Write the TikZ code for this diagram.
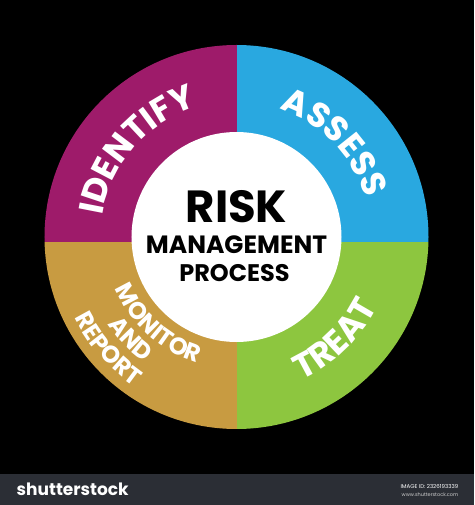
\documentclass[tikz,border=0pt]{standalone}
\usepackage{fontspec}
\setmainfont{Poppins}
\usetikzlibrary{decorations.text}
\definecolor{cmag}{RGB}{158,27,106}
\definecolor{cblue}{RGB}{41,168,224}
\definecolor{cgreen}{RGB}{141,198,63}
\definecolor{cgold}{RGB}{200,155,65}
\definecolor{cbar}{RGB}{43,46,53}
\tikzset{
  arctext/.style={decorate, decoration={text along path, text align=center, text color=white, text={#1}}},
  centertext/.style={text=black, font=\bfseries, inner sep=0pt},
}
\begin{document}
\begin{tikzpicture}[x=1pt,y=1pt]
\fill[black] (-236.5,-268) rectangle (237.5,237);
\useasboundingbox (-236.5,-268) rectangle (237.5,237);
% quadrants
\begin{scope}
  \clip (0,0) circle[radius=192];
  \fill[cmag] (-200,-5) rectangle (0,200);
  \fill[cblue] (0,-5) rectangle (200,200);
  \fill[cgreen] (0,-5) rectangle (200,-200);
  \fill[cgold] (-200,-5) rectangle (0,-200);
\end{scope}
\node[circle, fill=white, minimum size=210pt, inner sep=0pt] (hub) at (0,0) {};
% center text
\node[centertext, font=\fontsize{45}{45}\selectfont\bfseries] (risk) at (0,30) {RISK};
\node[centertext, font=\fontsize{25}{25}\selectfont\bfseries] (mgmt) at (0,-8) {MANAGEMENT};
\node[centertext, font=\fontsize{24}{24}\selectfont\bfseries] (proc) at (-2,-36) {PROCESS};
% arc texts
\path[arctext={|\fontsize{34.5}{34.5}\selectfont\bfseries|IDENTIFY}] (189:136) arc[start angle=189, end angle=89, radius=136];
\path[arctext={|\fontsize{34.5}{34.5}\selectfont\bfseries|ASSESS}] (94:135) arc[start angle=94, end angle=-6, radius=135];
\path[arctext={|\fontsize{34.5}{34.5}\selectfont\bfseries|TREAT}] (-96:157) arc[start angle=-96, end angle=4, radius=157];
\path[arctext={|\fontsize{24}{24}\selectfont\bfseries|MONITOR}] (178:132) arc[start angle=178, end angle=278, radius=132];
\path[arctext={|\fontsize{24}{24}\selectfont\bfseries|AND}] (174:156) arc[start angle=174, end angle=274, radius=156];
\path[arctext={|\fontsize{24}{24}\selectfont\bfseries|REPORT}] (171:181) arc[start angle=171, end angle=271, radius=181];
% bottom bar
\fill[cbar] (-236.5,-268) rectangle (237.5,-237);
\node[anchor=west, text=white, font=\fontsize{17}{17}\selectfont\bfseries, inner sep=0pt] (logo) at (-220,-252) {shutterstock};
\node[anchor=east, text=white, font=\fontsize{5.5}{5.5}\selectfont, inner sep=0pt] (imgid) at (222,-249) {IMAGE ID: 2326193339};
\node[anchor=east, text=white!80!black, font=\fontsize{5}{5}\selectfont, inner sep=0pt] (www) at (222,-257.5) {www.shutterstock.com};
\end{tikzpicture}
\end{document}
